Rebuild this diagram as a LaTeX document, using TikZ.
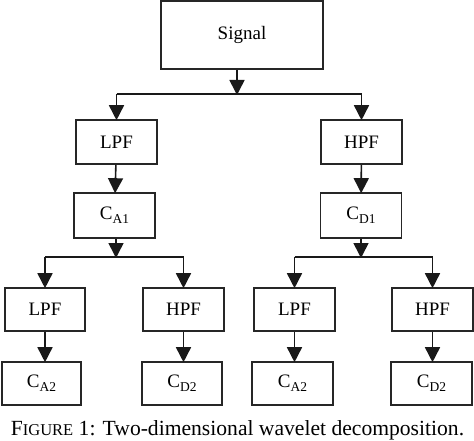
\documentclass[tikz,border=0pt]{standalone}
\usepackage{fontspec}
\setmainfont{Liberation Serif}
\usetikzlibrary{arrows.meta,calc}
\newcommand{\sub}[1]{\raisebox{-4pt}{\fontsize{13.5}{13.5}\selectfont #1}}
\begin{document}
\begin{tikzpicture}[x=1pt,y=-1pt,
  box/.style={draw=black!85, line width=1.6pt, minimum width=81pt, minimum height=44pt, inner sep=0pt,
    font=\fontsize{19}{21}\selectfont},
  ln/.style={draw=black!90, line width=1.6pt},
  arr/.style={ln, -{Triangle[length=15pt,width=15pt]}, shorten >=-1pt}]
\useasboundingbox (0,0) rectangle (474,441);
% boxes
\node[box, minimum width=162pt, minimum height=68pt] (sig) at (242,35) {Signal};
\node[box] (lpf1) at (116.5,142) {LPF};
\node[box] (hpf1) at (361.5,142) {HPF};
\node[box, minimum height=45pt] (ca1) at (114.5,215.5) {C\sub{A1}};
\node[box, minimum height=45pt] (cd1) at (361,215.5) {C\sub{D1}};
\node[box, minimum width=80pt, minimum height=43pt] (lpf2a) at (45,309.5) {LPF};
\node[box, minimum height=43pt] (hpf2a) at (183.5,309.5) {HPF};
\node[box, minimum height=43pt] (lpf2b) at (294.5,309.5) {LPF};
\node[box, minimum height=43pt] (hpf2b) at (432.5,309.5) {HPF};
\node[box, minimum width=79pt, minimum height=43pt] (ca2a) at (41.5,383.5) {C\sub{A2}};
\node[box, minimum width=80pt, minimum height=43pt] (cd2a) at (182,383.5) {C\sub{D2}};
\node[box, minimum height=43pt] (ca2b) at (292.5,383.5) {C\sub{A2}};
\node[box, minimum height=43pt] (cd2b) at (431.5,383.5) {C\sub{D2}};
% junctions
\coordinate (j1) at (237,94);
\coordinate (j2) at (116,257);
\coordinate (j3) at (361,257);
% level 1
\draw[arr] (sig.south -| j1) -- (j1);
\draw[ln] (lpf1.north |- j1) -- (hpf1.north |- j1);
\draw[arr] (lpf1.north |- j1) -- (lpf1.north);
\draw[arr] (hpf1.north |- j1) -- (hpf1.north);
\draw[arr] (lpf1) -- (ca1);
\draw[arr] (hpf1) -- (cd1);
% level 2
\draw[arr] (ca1.south -| j2) -- (j2);
\draw[arr] (cd1.south -| j3) -- (j3);
\draw[ln] (lpf2a.north |- j2) -- (hpf2a.north |- j2);
\draw[ln] (lpf2b.north |- j3) -- (hpf2b.north |- j3);
\draw[arr] (lpf2a.north |- j2) -- (lpf2a.north);
\draw[arr] (hpf2a.north |- j2) -- (hpf2a.north);
\draw[arr] (lpf2b.north |- j3) -- (lpf2b.north);
\draw[arr] (hpf2b.north |- j3) -- (hpf2b.north);
% level 3
\draw[arr] (lpf2a) -- (lpf2a |- ca2a.north);
\draw[arr] (hpf2a) -- (hpf2a |- cd2a.north);
\draw[arr] (lpf2b) -- (lpf2b |- ca2b.north);
\draw[arr] (hpf2b) -- (hpf2b |- cd2b.north);
% caption
\node[anchor=base, inner sep=0pt, font=\fontsize{21.6}{23}\selectfont] (cap) at (237.5,435)
  {F{\fontsize{16.5}{18}\selectfont IGURE} 1: Two-dimensional wavelet decomposition.};
\end{tikzpicture}
\end{document}
